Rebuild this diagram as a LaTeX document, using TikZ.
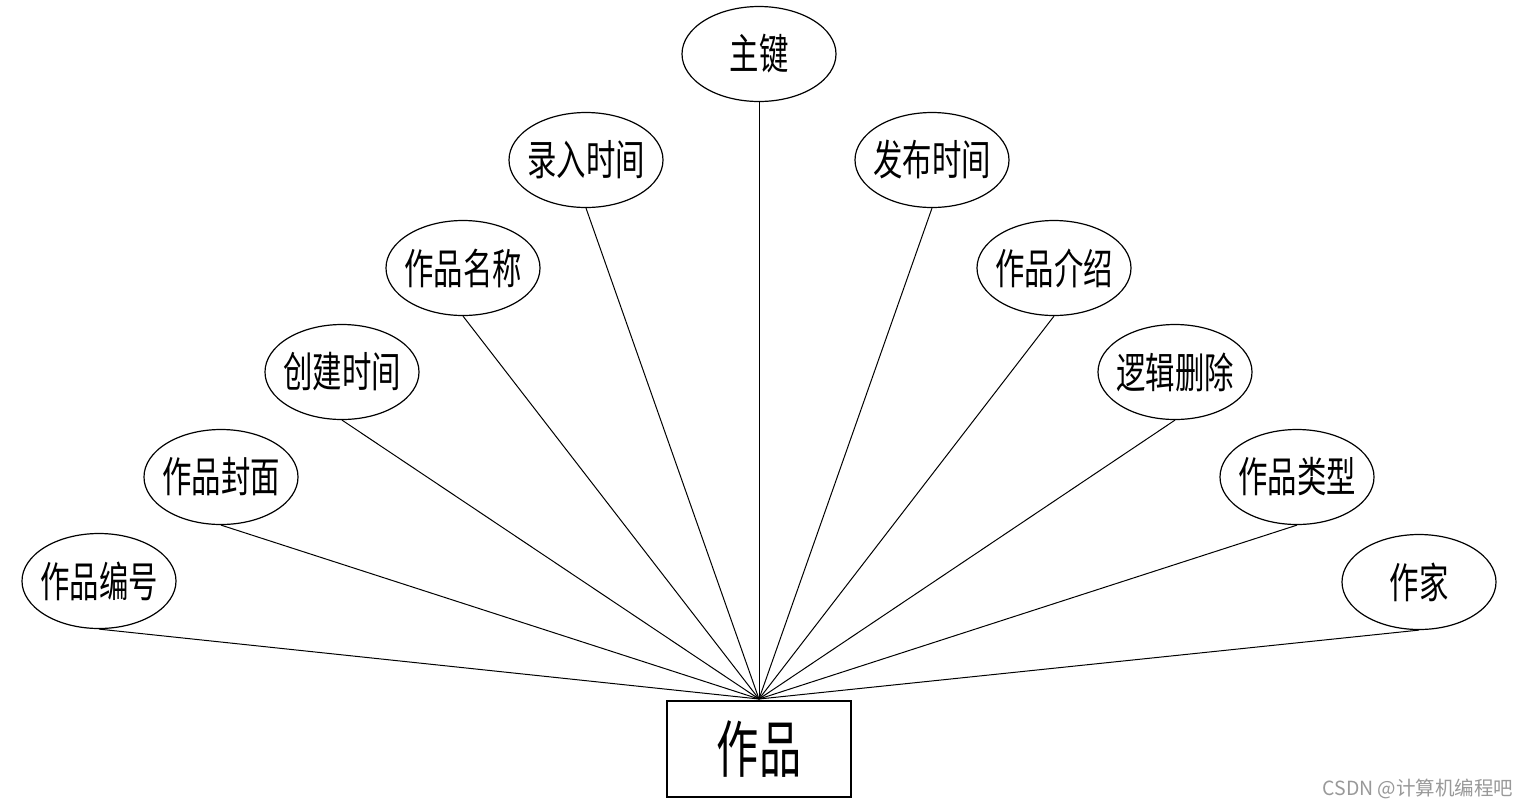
\documentclass[tikz,border=0pt]{standalone}
\usepackage{fontspec}
\usepackage{graphicx}
\newfontfamily\cjk{Noto Sans CJK SC}
\usetikzlibrary{shapes.geometric}
\tikzset{
  attr/.style={ellipse, draw, line width=1.2pt, minimum width=154pt, minimum height=95pt, inner sep=0pt,
    font=\cjk\fontsize{42}{42}\selectfont},
  ent/.style={rectangle, draw, line width=1.2pt, minimum width=184pt, minimum height=96pt, inner sep=0pt,
    font=\cjk\fontsize{62}{62}\selectfont},
  link/.style={line width=1pt},
  wmark/.style={text=gray!80, font=\cjk\fontsize{19.5}{19.5}\selectfont}
}
\newcommand{\nar}[1]{\makebox[0pt]{\scalebox{0.7}[1]{#1}}}
\begin{document}
\begin{tikzpicture}[x=1pt,y=-1pt]
\useasboundingbox (0,0) rectangle (1531,807);
\fill[white] (0,0) rectangle (1531,807);
\node[ent] (e) at (759,749) {\scalebox{0.68}[1]{作品}};
\coordinate (hub) at (759,699);
\node[attr] (a1) at (759,54) {\nar{主键}};
\node[attr] (a2) at (586,160) {\nar{录入时间}};
\node[attr] (a3) at (932,160) {\nar{发布时间}};
\node[attr] (a4) at (463,268) {\nar{作品名称}};
\node[attr] (a5) at (1054,268) {\nar{作品介绍}};
\node[attr] (a6) at (342,372) {\nar{创建时间}};
\node[attr] (a7) at (1175,372) {\nar{逻辑删除}};
\node[attr] (a8) at (221,477) {\nar{作品封面}};
\node[attr] (a9) at (1297,477) {\nar{作品类型}};
\node[attr] (a10) at (99,581) {\nar{作品编号}};
\node[attr] (a11) at (1419,582) {\nar{作家}};
\foreach \n in {a1,a2,a3,a4,a5,a6,a7,a8,a9,a10,a11}
  \draw[link] (\n.south) -- (hub);
\node[wmark] (wm) at (1418,789) {CSDN @计算机编程吧};
\end{tikzpicture}
\end{document}
